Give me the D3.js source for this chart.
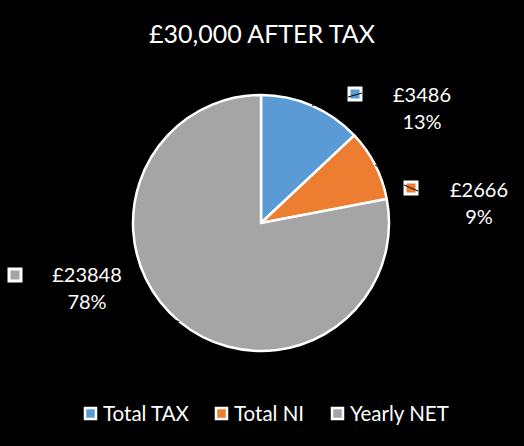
<!DOCTYPE html>
<html><head><meta charset="utf-8">
<script src="https://cdn.jsdelivr.net/npm/d3@7"></script>
<style>
html,body{margin:0;padding:0;background:#000;}
svg{display:block;font-family:"Lato","Open Sans",sans-serif;}
</style></head>
<body>
<svg id="c" width="524" height="446"></svg>
<script>
const title = "£30,000 AFTER TAX";
const categories = ["Total TAX", "Total NI", "Yearly NET"];
const amounts = [3486, 2666, 23848];
const percents = [13, 9, 78];
const colors = ["#5B9BD5", "#ED7D31", "#A5A5A5"];
// label anchor positions (layout)
const labelPos = [[422, 108], [479, 203], [87, 288]];
const keyPos = [[355, 94], [411, 188], [15, 275]];

const svg = d3.select("#c");
svg.append("rect").attr("width", 524).attr("height", 446).attr("fill", "#000");

svg.append("text").attr("x", 262).attr("y", 43).attr("text-anchor", "middle")
  .attr("fill", "#fff").attr("font-size", 25).text(title);

const cx = 261, cy = 223, r = 128;
const pie = d3.pie().sort(null).value(d => d)(percents);
const arc = d3.arc().innerRadius(0).outerRadius(r);
const g = svg.append("g").attr("transform", `translate(${cx},${cy})`);
g.selectAll("path").data(pie).join("path")
  .attr("d", arc).attr("fill", (d, i) => colors[i])
  .attr("stroke", "#fff").attr("stroke-width", 2.5).attr("stroke-linejoin", "round");

// leader lines
const outer = d3.arc().innerRadius(r).outerRadius(r);
pie.forEach((d, i) => {
  const p = outer.centroid(d);
  svg.append("line").attr("x1", cx + p[0]).attr("y1", cy + p[1])
    .attr("x2", keyPos[i][0]).attr("y2", keyPos[i][1])
    .attr("stroke", "#000").attr("stroke-width", 1);
});

// data labels
pie.forEach((d, i) => {
  const [kx, ky] = keyPos[i];
  svg.append("rect").attr("x", kx - 6).attr("y", ky - 6).attr("width", 12).attr("height", 12)
    .attr("fill", colors[i]).attr("stroke", "#fff").attr("stroke-width", 3);
  if (i < 2) {
    svg.append("line").attr("x1", kx - 7).attr("y1", ky + (i === 0 ? 3 : -3))
      .attr("x2", kx + 7).attr("y2", ky + (i === 0 ? -1 : 3))
      .attr("stroke", "#000").attr("stroke-width", 1);
  }
  const [lx, ly] = labelPos[i];
  const t = svg.append("text").attr("text-anchor", "middle").attr("fill", "#fff").attr("font-size", 20);
  t.append("tspan").attr("x", lx).attr("y", ly - 6).text("£" + amounts[i]);
  t.append("tspan").attr("x", lx).attr("y", ly + 21).text(percents[i] + "%");
});

// legend
const legX = [84, 215, 331];
categories.forEach((c, i) => {
  svg.append("rect").attr("x", legX[i] + 1).attr("y", 408).attr("width", 11).attr("height", 11)
    .attr("fill", colors[i]).attr("stroke", "#fff").attr("stroke-width", 2.5);
  svg.append("text").attr("x", legX[i] + 19).attr("y", 421).attr("fill", "#fff")
    .attr("font-size", 20.5).text(c);
});
</script>
</body></html>
